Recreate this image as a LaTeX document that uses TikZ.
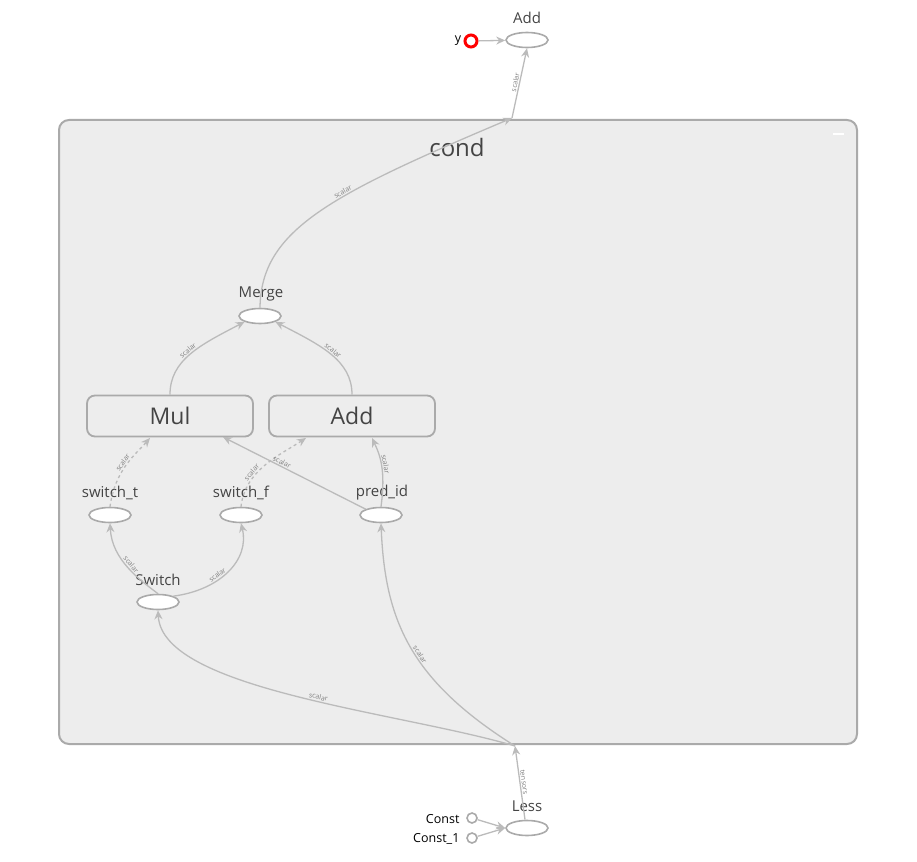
\documentclass[tikz,border=0pt]{standalone}
\usepackage{fontspec}
\setmainfont{Open Sans}
\usetikzlibrary{arrows.meta,shapes.geometric}
\definecolor{edge}{HTML}{BBBBBB}
\definecolor{bord}{HTML}{AAAAAA}
\definecolor{txt}{HTML}{444444}
\tikzset{
 x=1pt,y=-1pt,
 op/.style={draw=bord,line width=1.6pt,fill=white,ellipse,minimum width=42pt,minimum height=15pt,inner sep=0pt},
 cst/.style={draw=bord,line width=1.6pt,fill=white,circle,minimum size=10pt,inner sep=0pt},
 grp/.style={draw=bord,line width=1.8pt,fill=black!7,rounded corners=8pt,minimum width=166pt,minimum height=41pt,font=\fontsize{23}{23}\selectfont,text=txt},
 lbl/.style={font=\fontsize{15}{15}\selectfont,text=txt},
 sl/.style={font=\fontsize{12.5}{12.5}\selectfont,text=black},
 e/.style={draw=edge,line width=1.3pt,-{Stealth[length=9pt,width=8pt]}},
 el/.style={font=\fontsize{7}{7}\selectfont,text=gray,sloped,inner sep=1pt},
}
\begin{document}
\begin{tikzpicture}
\useasboundingbox (0,0) rectangle (917,861);
\node[draw=bord,line width=2pt,fill=black!7,rounded corners=10pt,minimum width=798pt,minimum height=624pt,anchor=north west] (cond) at (58,119) {};
\node[font=\fontsize{24}{24}\selectfont,text=txt] (condt) at (457,148) {cond};
\node[minimum width=11pt,minimum height=1.5pt,inner sep=0pt,fill=white] (minus) at (838,134) {};
\coordinate (ctop) at (512,118);
\coordinate (cbot) at (515,746);
% nodes
\node[op] (add) at (527,40) {};
\node[lbl] at (527,18) {Add};
\node[cst,draw=red,fill=white,line width=3pt,minimum size=12pt] (y) at (471,41) {};
\node[sl] at (458,41) {y};
\node[op] (merge) at (260,316) {};
\node[lbl] at (261,294) {Merge};
\node[grp] (mul) at (170,416) {Mul};
\node[grp] (addg) at (352,416) {Add};
\node[op] (st) at (110,515) {};
\node[lbl] at (110,493) {switch\_t};
\node[op] (sf) at (241,515) {};
\node[lbl] at (241,493) {switch\_f};
\node[op] (pid) at (381,515) {};
\node[lbl] at (382,493) {pred\_id};
\node[op] (sw) at (158,602) {};
\node[lbl] at (158,580) {Switch};
\node[op] (less) at (527,828) {};
\node[lbl] at (527,806) {Less};
\node[cst] (c0) at (472,818) {};
\node[sl,anchor=east] at (463,819) {Const};
\node[cst] (c1) at (472,838) {};
\node[sl,anchor=east] at (463,839) {Const\_1};
% edges
\draw[e] (y) -- (add);
\draw[e] (ctop) -- node[el,above]{scalar} (add.south);
\draw[e] (merge.north) .. controls (261,230) and (330,195) .. node[el,above,pos=0.6]{scalar} (ctop);
\draw[e] (mul.north) .. controls (170,360) and (200,345) .. node[el,above]{scalar} (merge.south west);
\draw[e] (addg.north) .. controls (352,360) and (320,345) .. node[el,above]{scalar} (merge.south east);
\draw[e,dashed] (st.north) .. controls (115,470) and (135,455) .. node[el,above]{scalar} (150,438);
\draw[e,dashed] (sf.north) .. controls (245,470) and (280,455) .. node[el,above,pos=0.35]{scalar} (306,438);
\draw[e] (pid.north west) -- node[el,above,pos=0.6]{scalar} (223,437);
\draw[e] (pid.north) .. controls (386,470) and (380,455) .. node[el,above]{scalar} (372,438);
\draw[e] (sw.north) .. controls (140,580) and (112,560) .. node[el,above]{scalar} (st.south);
\draw[e] (sw.north east) .. controls (220,590) and (250,560) .. node[el,above,pos=0.4]{scalar} (sf.south);
\draw[e] (cbot) .. controls (400,712) and (162,690) .. node[el,above,pos=0.45]{scalar} (sw.south);
\draw[e] (cbot) .. controls (410,680) and (385,620) .. node[el,above,pos=0.45]{scalar} (pid.south);
\draw[e] (less.north) ++(-2,0) -- node[el,above]{tensors} (cbot);
\draw[e] (c0) -- (less.west);
\draw[e] (c1) -- (less.west);
\end{tikzpicture}
\end{document}
